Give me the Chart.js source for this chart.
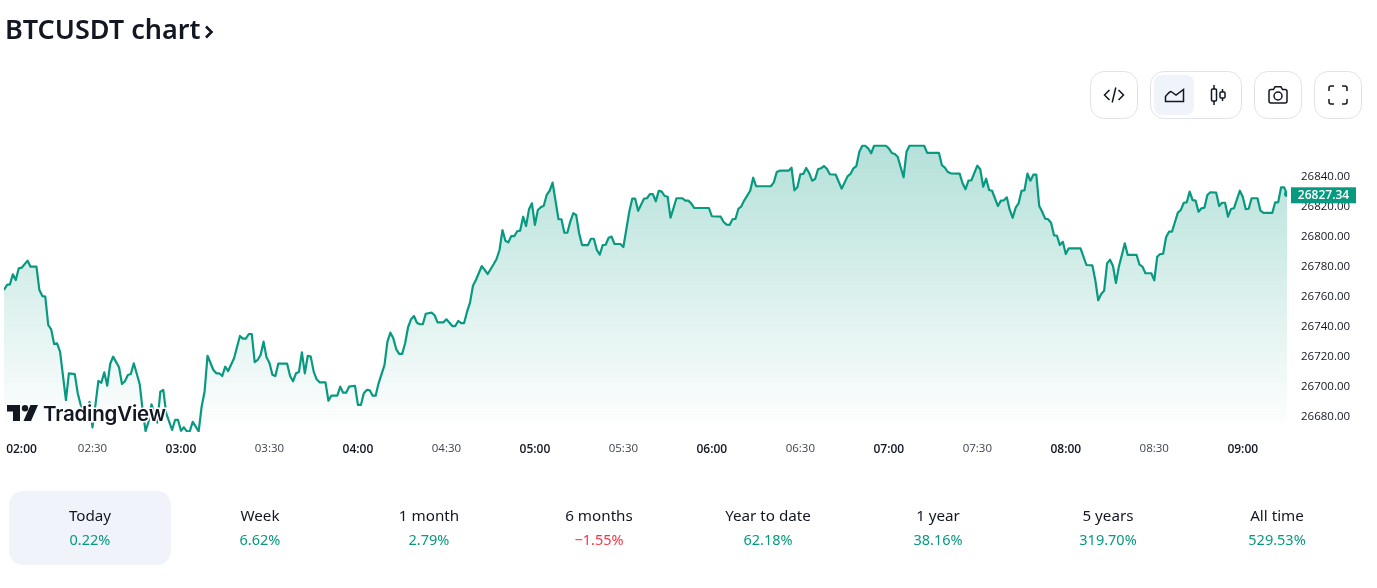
<!DOCTYPE html>
<html>
<head>
<meta charset="utf-8">
<title>BTCUSDT chart</title>
<script src="https://cdn.jsdelivr.net/npm/chart.js@4/dist/chart.umd.min.js"></script>
<style>
  html, body { margin: 0; padding: 0; background: #fff; }
  body { position: relative; width: 1377px; height: 588px; overflow: hidden; font-family: "Noto Sans", sans-serif; color: #131722; }
  #chart { position: absolute; left: 0; top: 0; }
  h1 { position: absolute; left: 5px; top: 11px; margin: 0; font-size: 27px; line-height: 36px; font-weight: 600; white-space: nowrap; }
  .chev { position: absolute; left: 203px; top: 24px; }
  .btn { position: absolute; top: 71px; height: 46px; border: 1px solid #e0e3eb; border-radius: 14px; box-sizing: content-box; }
  .btn svg { position: absolute; }
  .active { position: absolute; left: 3px; top: 3px; width: 40px; height: 40px; background: #f0f3fa; border-radius: 8px; }
  .logo { position: absolute; left: 7px; top: 405px; }
  .brand { position: absolute; left: 43px; top: 399px; font: 600 20.5px/30px Inter, sans-serif; letter-spacing: -0.2px; color: #131722; -webkit-text-stroke: 3px #fff; paint-order: stroke fill; }
  .tab { position: absolute; top: 491px; width: 162px; height: 74px; border-radius: 14px; text-align: center; font-size: 14.5px; }
  .tab.on { background: #f0f3fa; }
  .tab div { position: absolute; left: 0; right: 0; line-height: 20px; }
  .tab .name { top: 14px; font-size: 15.2px; }
  .tab .pct { top: 38px; }
</style>
</head>
<body>
<canvas id="chart" width="1377" height="588"></canvas>
<h1>BTCUSDT chart</h1>
<svg class="chev" width="12" height="16" viewBox="0 0 12 16"><path d="M3 2.5 L8.5 8 L3 13.5" fill="none" stroke="#131722" stroke-width="2.6"/></svg>

<div class="btn" style="left:1090px;width:46px">
  <svg style="left:11px;top:11px" width="24" height="24" viewBox="0 0 24 24" fill="none" stroke="#131722" stroke-width="1.5"><path d="M7.5 7 L2.5 12 L7.5 17 M16.5 7 L21.5 12 L16.5 17 M13.8 4.5 L10.2 19.5"/></svg>
</div>
<div class="btn" style="left:1150px;width:90px">
  <div class="active"></div>
  <svg style="left:11px;top:11px" width="24" height="24" viewBox="0 0 24 24" fill="none" stroke="#131722" stroke-width="1.5"><path d="M3.5 18.5 V13.5 Q7 9 9 8.5 L14 12 L21.5 6.5 V18.5 Z"/></svg>
  <svg style="left:55px;top:11px" width="24" height="24" viewBox="0 0 24 24" fill="none" stroke="#131722" stroke-width="1.5"><path d="M8 2 V22 M16.5 6 V18"/><rect x="5.5" y="6" width="5" height="12" rx="1" fill="#fff"/><rect x="14" y="9" width="5" height="6" rx="1" fill="#fff"/></svg>
</div>
<div class="btn" style="left:1254px;width:46px">
  <svg style="left:11px;top:11px" width="24" height="24" viewBox="0 0 24 24" fill="none" stroke="#131722" stroke-width="1.5"><path d="M3 8.5 Q3 6.5 5 6.5 H7.5 L9 3.8 H15 L16.5 6.5 H19 Q21 6.5 21 8.5 V18 Q21 20 19 20 H5 Q3 20 3 18 Z"/><circle cx="12" cy="13" r="4"/></svg>
</div>
<div class="btn" style="left:1314px;width:46px">
  <svg style="left:11px;top:11px" width="24" height="24" viewBox="0 0 24 24" fill="none" stroke="#131722" stroke-width="1.5"><path d="M3 8 V5 Q3 3 5 3 H8 M16 3 H19 Q21 3 21 5 V8 M21 16 V19 Q21 21 19 21 H16 M8 21 H5 Q3 21 3 19 V16"/></svg>
</div>

<svg class="logo" width="31" height="18" viewBox="0 0 31 18"><path d="M0 0 H13 V16 H6 V6.5 H0 Z M25 0 H31 L24 16 H16.5 L23.5 0 Z" fill="#131722"/><circle cx="18" cy="3.2" r="3.2" fill="#131722"/></svg>
<div class="brand">TradingView</div>

<div id="tabs"></div>

<script>
// minutes after 02:00 for each turning point of the line
const minutes = [
  0,1,2,3,4,5,6,8,9,11,12,13,14,15,16,17,18,19,21,22,24,25,26,27,28,29,30,31,32,33,
  34,35,36,37,39,40,41,42,43,44,46,47,48,49,50,51,52,53,54,55,57,58,59,60,61,62,63,64,66,67,
  68,69,71,72,73,74,75,76,78,80,81,82,83,84,85,86,87,88,89,90,91,92,93,96,97,98,99,100,101,102,
  103,104,105,106,107,109,110,111,113,114,115,116,117,119,120,121,122,123,124,125,126,127,129,130,131,132,133,134,135,136,
  137,138,139,140,141,142,143,145,146,147,149,150,152,153,154,155,156,157,158,159,160,162,164,166,167,168,169,170,171,172,
  173,174,175,176,177,178,179,180,181,182,183,184,185,186,188,189,190,191,192,193,194,195,196,198,199,200,201,202,203,204,
  205,206,207,209,210,212,213,214,215,217,218,219,220,221,222,223,224,225,226,228,230,231,232,233,234,239,240,243,244,245,
  246,247,248,249,250,251,253,254,255,260,261,262,263,266,267,268,269,270,271,272,273,274,275,276,277,278,279,280,282,284,
  286,287,288,289,290,291,292,293,294,295,299,300,301,302,303,305,306,307,312,313,317,318,319,320,321,324,325,326,327,328,
  330,331,332,333,334,335,337,338,339,340,341,342,343,344,345,346,347,348,349,350,351,352,353,354,355,356,357,358,359,360,
  361,365,367,369,370,371,372,373,374,375,376,377,378,379,380,381,384,385,386,387,389,390,391,392,393,394,395,396,398,399,
  400,401,402,403,404,405,406,407,408,409,411,412,413,414,415,416,417,419,420,421,422,423,425,426,427,430,431,432,433,434,
  435
];
const prices = [
  26763.3,26766.7,26767.1,26773.8,26770,26777.8,26778.2,26782.9,26778.9,26778.9,26763.3,26759.3,26758.9,26740,26737.1,26727.3,26727.8,26722.2,26690,26707.8,26707.3,26694.5,26686.7,26683.3,26680,26688.7,26671.8,26686.7,26702.7,26701.5,
  26708.5,26699.5,26714,26718.9,26711.8,26700.7,26702.5,26706.7,26707.3,26714.5,26700.7,26683.3,26669.3,26675.5,26687.1,26681.3,26674.9,26695.5,26696.7,26681.1,26670,26676.7,26676.7,26669.5,26671.8,26669.1,26669.3,26675.5,26669.1,26685.5,
  26695.5,26719.5,26710,26707.8,26707.8,26706,26712.2,26709.3,26717.8,26732.7,26730.9,26730.9,26734,26734,26715.3,26716.7,26720,26728.9,26718.5,26714.9,26706.9,26706,26714.2,26714.2,26706,26702.5,26707.8,26708.7,26721.8,26707.8,
  26719.5,26718.9,26708.9,26703.8,26701.8,26701.8,26689.5,26692.9,26692.9,26698.9,26694.9,26694.9,26698.9,26699.5,26686.7,26686.7,26694.5,26696.7,26696.5,26692.9,26692.9,26701.1,26713.3,26728.9,26734.9,26731.1,26723.8,26720.7,26720.7,26727.8,
  26738.5,26743.8,26746,26741.5,26740.5,26740.5,26747.5,26748.2,26746.5,26741.8,26741.8,26743.8,26739.3,26739.3,26742.7,26741.3,26741.3,26748.9,26754.9,26766.2,26770,26779.3,26774,26780.5,26784,26790,26803.3,26796.2,26795.1,26799.3,
  26799.3,26802.5,26802.9,26812.2,26806,26817.1,26821.1,26806.7,26816.7,26818.5,26819.5,26826.7,26829.5,26834.9,26810.5,26810.5,26801.5,26801.5,26808.9,26814.5,26813.3,26801.1,26793.3,26793.3,26797.5,26797.5,26790,26786.9,26793.3,26793.5,
  26798.2,26798.9,26794,26794,26792,26815.5,26824.2,26824.2,26816.2,26824.2,26824.5,26827.3,26827.3,26822.5,26829.5,26828.9,26826,26825.5,26811.5,26824.5,26824.5,26822.9,26822.9,26821.1,26818,26818,26812.5,26812.2,26808.7,26806.9,
  26806.7,26810.5,26810.7,26817.5,26819.1,26823.1,26829.5,26838.2,26832.5,26832.5,26835.1,26842,26842.9,26842.9,26844.9,26829.8,26831.8,26840.5,26840.7,26844.7,26841.3,26836.2,26837.3,26843.8,26844.5,26846,26844.2,26840.5,26840.2,26830.9,
  26839.1,26840.7,26844.5,26846,26855.5,26859.5,26859.5,26857.8,26854.5,26859.5,26859.5,26857.8,26854.7,26854,26852.2,26838.5,26855.5,26859.5,26859.5,26854.7,26854.7,26846.5,26844.9,26842,26841.1,26840.9,26834.5,26830.5,26836.2,26836.5,
  26846.2,26843.8,26832.2,26837.5,26830,26829.5,26819.3,26822.9,26823.1,26825.1,26816.7,26811.5,26818.2,26821.1,26829.5,26829.8,26840.9,26836.2,26840.2,26840.2,26819.3,26815.5,26810.9,26810.5,26808.2,26799.8,26799.5,26793.3,26795.5,26787.3,
  26791.1,26791.1,26780,26779.8,26770,26756.5,26760.7,26762.9,26781.1,26783.5,26779.3,26768,26778.9,26786.7,26794.5,26786.7,26786.7,26780.2,26778.9,26774.5,26774.5,26769.8,26785.5,26787.3,26787.5,26798.5,26802.2,26802.2,26814.9,26816.7,
  26821.5,26821.8,26828.9,26823.3,26822.9,26815.5,26817.8,26818.2,26826.7,26828.5,26828.2,26819.3,26821.5,26821.5,26812.2,26817.3,26817.8,26829.5,26825.5,26817.3,26817.5,26824.5,26824.5,26816.2,26814.7,26814.7,26821.8,26821.8,26831.8,26831.8,
  26827.34
];

const xTickMinutes = [0,30,60,90,120,150,180,210,240,270,300,330,360,390,420];
const xTickLabels = ['02:00','02:30','03:00','03:30','04:00','04:30','05:00','05:30','06:00','06:30','07:00','07:30','08:00','08:30','09:00'];
const yTickValues = [26680,26700,26720,26740,26760,26780,26800,26820,26840];

const lastPrice = 26827.34;

const tabNames = ['Today','Week','1 month','6 months','Year to date','1 year','5 years','All time'];
const tabValues = ['0.22%','6.62%','2.79%','\u22121.55%','62.18%','38.16%','319.70%','529.53%'];

const green = '#089981';
const red = '#f23645';
const ink = '#131722';
const tickFont = '"Open Sans", sans-serif';

// period tabs under the chart
const tabs = document.getElementById('tabs');
tabNames.forEach((name, i) => {
  const el = document.createElement('div');
  el.className = 'tab' + (i === 0 ? ' on' : '');
  el.style.left = Math.round(9 + i * 169.6) + 'px';
  const color = tabValues[i].startsWith('\u2212') ? red : green;
  el.innerHTML = `<div class="name">${name}</div><div class="pct" style="color:${color}">${tabValues[i]}</div>`;
  tabs.appendChild(el);
});

const isHour = (c) => c.tick && c.tick.value % 60 === 0;

// first time label is pushed inside the canvas, and the last price sits in a badge over the axis
const overlayPlugin = {
  id: 'overlay',
  beforeDraw(chart) {
    // price labels sit slightly under their tick position
    chart.scales.y.getLabelItems().forEach((item) => {
      item.options.translation[1] += 2;
    });
  },
  afterDraw(chart) {
    const ctx = chart.ctx;
    const x = chart.scales.x;
    const y = chart.scales.y;
    ctx.save();
    ctx.textBaseline = 'middle';
    ctx.textAlign = 'center';
    ctx.fillStyle = ink;
    ctx.font = `600 12px ${tickFont}`;
    ctx.fillText(xTickLabels[0], x.getPixelForValue(0) + 17.5, 450);

    const py = y.getPixelForValue(lastPrice) + 1.3;
    ctx.fillStyle = green;
    ctx.fillRect(1291, py - 8, 65, 16);
    ctx.fillStyle = '#fff';
    ctx.font = `600 12px ${tickFont}`;
    ctx.fillText(lastPrice.toFixed(2), 1323.5, py + 0.5);
    ctx.restore();
  },
};

new Chart(document.getElementById('chart'), {
  type: 'line',
  data: {
    datasets: [
      {
        data: minutes.map((m, i) => ({ x: m, y: prices[i] })),
        borderColor: green,
        borderWidth: 2.2,
        borderJoinStyle: 'round',
        tension: 0,
        fill: 'start',
        backgroundColor: (c) => {
          const g = c.chart.ctx.createLinearGradient(0, 145, 0, 432);
          g.addColorStop(0, 'rgba(8,153,129,0.3)');
          g.addColorStop(1, 'rgba(8,153,129,0)');
          return g;
        },
        pointRadius: (c) => (c.dataIndex === minutes.length - 1 ? 3 : 0),
        pointBackgroundColor: green,
        pointBorderWidth: 0,
      },
    ],
  },
  options: {
    responsive: false,
    animation: false,
    events: [],
    layout: { padding: { left: 4, top: 130, right: 0, bottom: 0 } },
    plugins: { legend: { display: false }, tooltip: { enabled: false } },
    scales: {
      x: {
        type: 'linear',
        min: 0,
        max: 435,
        grid: { display: false, drawTicks: false },
        border: { display: false },
        afterFit: (s) => { s.height = 156; s.paddingLeft = 0; s.paddingRight = 0; },
        afterBuildTicks: (s) => { s.ticks = xTickMinutes.map((v) => ({ value: v })); },
        ticks: {
          autoSkip: false,
          maxRotation: 0,
          padding: 10,
          callback: (v) => {
            const i = xTickMinutes.indexOf(v);
            return i > 0 ? xTickLabels[i] : '';
          },
          color: (c) => (isHour(c) ? ink : '#3f434e'),
          font: (c) => (isHour(c)
            ? { family: tickFont, size: 12, weight: '600' }
            : { family: tickFont, size: 11.5, weight: '400' }),
        },
      },
      y: {
        position: 'right',
        min: 26668.67,
        max: 26870,
        grid: { display: false, drawTicks: false },
        border: { display: false },
        afterFit: (s) => { s.width = 90; },
        afterBuildTicks: (s) => { s.ticks = yTickValues.map((v) => ({ value: v })); },
        ticks: {
          padding: 14,
          color: ink,
          font: { family: tickFont, size: 11.5 },
          callback: (v) => v.toFixed(2),
        },
      },
    },
  },
  plugins: [overlayPlugin],
});
</script>
</body>
</html>
